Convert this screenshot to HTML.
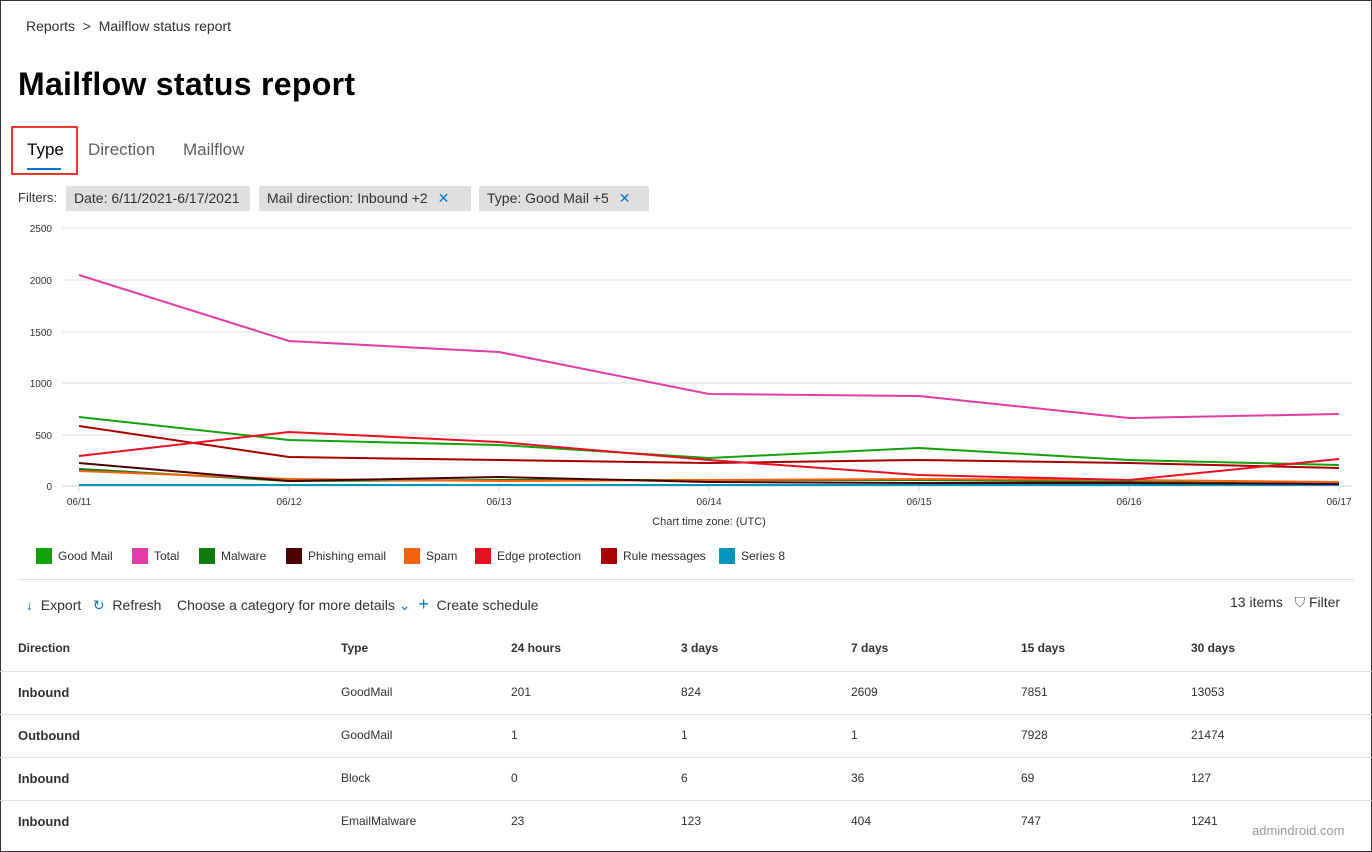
<!DOCTYPE html>
<html><head><meta charset="utf-8"><style>
body{margin:0;width:1372px;height:852px;overflow:hidden;background:#fff;font-family:"Liberation Sans",sans-serif;color:#323130;position:relative}
.frame{position:absolute;left:0;top:0;width:1370px;height:850px;border:1px solid #333}
.a{position:absolute;white-space:nowrap}
.chip{position:absolute;top:186px;height:25px;background:#e1dfdd;font-size:14px;line-height:25px;padding:0 8px;box-sizing:border-box}
.lg{position:absolute;top:548px;font-size:12px;line-height:16px}
.lg i{display:inline-block;width:16px;height:16px;vertical-align:top;margin-right:6px}
.row{position:absolute;left:0;width:1372px;border-top:1px solid #e1dfdd;height:43px;font-size:12px}
.row span{position:absolute;top:13px}
</style></head><body>
<div class="frame"></div>
<div class="a" style="left:26px;top:18px;font-size:14px">Reports &nbsp;&gt;&nbsp; Mailflow status report</div>
<div class="a" style="left:18px;top:66px;font-size:32px;font-weight:bold;color:#000;letter-spacing:0.3px">Mailflow status report</div>
<div style="position:absolute;left:11px;top:126px;width:67px;height:49px;border:2px solid #e33;box-sizing:border-box"></div>
<div class="a" style="left:27px;top:140px;font-size:17px;color:#000">Type</div>
<div style="position:absolute;left:27px;top:168px;width:34px;height:2px;background:#0078d4"></div>
<div class="a" style="left:88px;top:140px;font-size:17px;color:#605e5c">Direction</div>
<div class="a" style="left:183px;top:140px;font-size:17px;color:#605e5c">Mailflow</div>
<div class="a" style="left:18px;top:190px;font-size:13px">Filters:</div>
<div class="chip" style="left:66px;width:184px">Date: 6/11/2021-6/17/2021</div>
<div class="chip" style="left:259px;width:212px">Mail direction: Inbound +2 <span style="color:#0078d4;margin-left:6px">✕</span></div>
<div class="chip" style="left:479px;width:170px">Type: Good Mail +5 <span style="color:#0078d4;margin-left:6px">✕</span></div>
<svg style="position:absolute;left:0;top:0" width="1372" height="540" font-family="Liberation Sans" font-size="10" fill="#323130">
<g stroke="#e1dfdd"><line x1="62" x2="1352" y1="228" y2="228"/><line x1="62" x2="1352" y1="280" y2="280"/><line x1="62" x2="1352" y1="332" y2="332"/><line x1="62" x2="1352" y1="383" y2="383"/><line x1="62" x2="1352" y1="435" y2="435"/></g>
<line x1="62" x2="1352" y1="486" y2="486" stroke="#c8d8e8"/>
<g stroke="#c8d8e8"><line x1="79" x2="79" y1="486" y2="492"/><line x1="289" x2="289" y1="486" y2="492"/><line x1="499" x2="499" y1="486" y2="492"/><line x1="709" x2="709" y1="486" y2="492"/><line x1="919" x2="919" y1="486" y2="492"/><line x1="1129" x2="1129" y1="486" y2="492"/><line x1="1339" x2="1339" y1="486" y2="492"/></g>
<g text-anchor="end"><text x="52" y="232">2500</text><text x="52" y="284">2000</text><text x="52" y="336">1500</text><text x="52" y="387">1000</text><text x="52" y="439">500</text><text x="52" y="490">0</text></g>
<g text-anchor="middle"><text x="79" y="505">06/11</text><text x="289" y="505">06/12</text><text x="499" y="505">06/13</text><text x="709" y="505">06/14</text><text x="919" y="505">06/15</text><text x="1129" y="505">06/16</text><text x="1339" y="505">06/17</text><text x="709" y="525" font-size="11">Chart time zone: (UTC)</text></g>
<g fill="none" stroke-width="2">
<polyline stroke="#0097be" points="79,485 289,485 499,485 709,485 919,485 1129,485 1339,485"/>
<polyline stroke="#107c10" points="79,469 289,481 499,480 709,480 919,480 1129,482 1339,484"/>
<polyline stroke="#f7630c" points="79,471 289,479 499,481 709,480 919,479 1129,480 1339,482"/>
<polyline stroke="#4b0000" points="79,463 289,481 499,477 709,482 919,483 1129,483 1339,484"/>
<polyline stroke="#a80000" points="79,426 289,457 499,460 709,463 919,460 1129,463 1339,468"/>
<polyline stroke="#13a10e" points="79,417 289,440 499,445 709,458 919,448 1129,460 1339,465"/>
<polyline stroke="#e81123" points="79,456 289,432 499,442 709,460 919,475 1129,480 1339,459"/>
<polyline stroke="#e43ba6" points="79,275 289,341 499,352 709,394 919,396 1129,418 1339,414"/>
</g></svg>
<div class="lg" style="left:36px"><i style="background:#13a10e"></i>Good Mail</div>
<div class="lg" style="left:132px"><i style="background:#e43ba6"></i>Total</div>
<div class="lg" style="left:199px"><i style="background:#107c10"></i>Malware</div>
<div class="lg" style="left:286px"><i style="background:#4b0000"></i>Phishing email</div>
<div class="lg" style="left:404px"><i style="background:#f7630c"></i>Spam</div>
<div class="lg" style="left:475px"><i style="background:#e81123"></i>Edge protection</div>
<div class="lg" style="left:601px"><i style="background:#a80000"></i>Rule messages</div>
<div class="lg" style="left:719px"><i style="background:#0097be"></i>Series 8</div>
<div style="position:absolute;left:18px;top:579px;width:1336px;border-top:1px solid #e1dfdd"></div>
<div class="a" style="left:26px;top:594px;font-size:14px"><span style="color:#0078d4">↓</span>&nbsp; Export &nbsp;&nbsp;<span style="color:#0078d4">↻</span>&nbsp; Refresh &nbsp;&nbsp; Choose a category for more details <span style="color:#0078d4">⌄</span> &nbsp;<span style="color:#0078d4;font-size:18px">+</span>&nbsp; Create schedule</div>
<div class="a" style="left:1230px;top:594px;font-size:14px">13 items &nbsp;&nbsp;<span style="color:#605e5c">⛉</span> Filter</div>
<div class="row" style="top:628px;border-top:none;font-weight:bold"><span style="left:18px">Direction</span><span style="left:341px">Type</span><span style="left:511px">24 hours</span><span style="left:681px">3 days</span><span style="left:851px">7 days</span><span style="left:1021px">15 days</span><span style="left:1191px">30 days</span></div>
<div class="row" style="top:671px"><span style="left:18px;font-weight:bold;font-size:13px">Inbound</span><span style="left:341px">GoodMail</span><span style="left:511px">201</span><span style="left:681px">824</span><span style="left:851px">2609</span><span style="left:1021px">7851</span><span style="left:1191px">13053</span></div>
<div class="row" style="top:714px"><span style="left:18px;font-weight:bold;font-size:13px">Outbound</span><span style="left:341px">GoodMail</span><span style="left:511px">1</span><span style="left:681px">1</span><span style="left:851px">1</span><span style="left:1021px">7928</span><span style="left:1191px">21474</span></div>
<div class="row" style="top:757px"><span style="left:18px;font-weight:bold;font-size:13px">Inbound</span><span style="left:341px">Block</span><span style="left:511px">0</span><span style="left:681px">6</span><span style="left:851px">36</span><span style="left:1021px">69</span><span style="left:1191px">127</span></div>
<div class="row" style="top:800px"><span style="left:18px;font-weight:bold;font-size:13px">Inbound</span><span style="left:341px">EmailMalware</span><span style="left:511px">23</span><span style="left:681px">123</span><span style="left:851px">404</span><span style="left:1021px">747</span><span style="left:1191px">1241</span></div>
<div class="a" style="left:1252px;top:823px;font-size:13px;color:#999">admindroid.com</div>
</body></html>
